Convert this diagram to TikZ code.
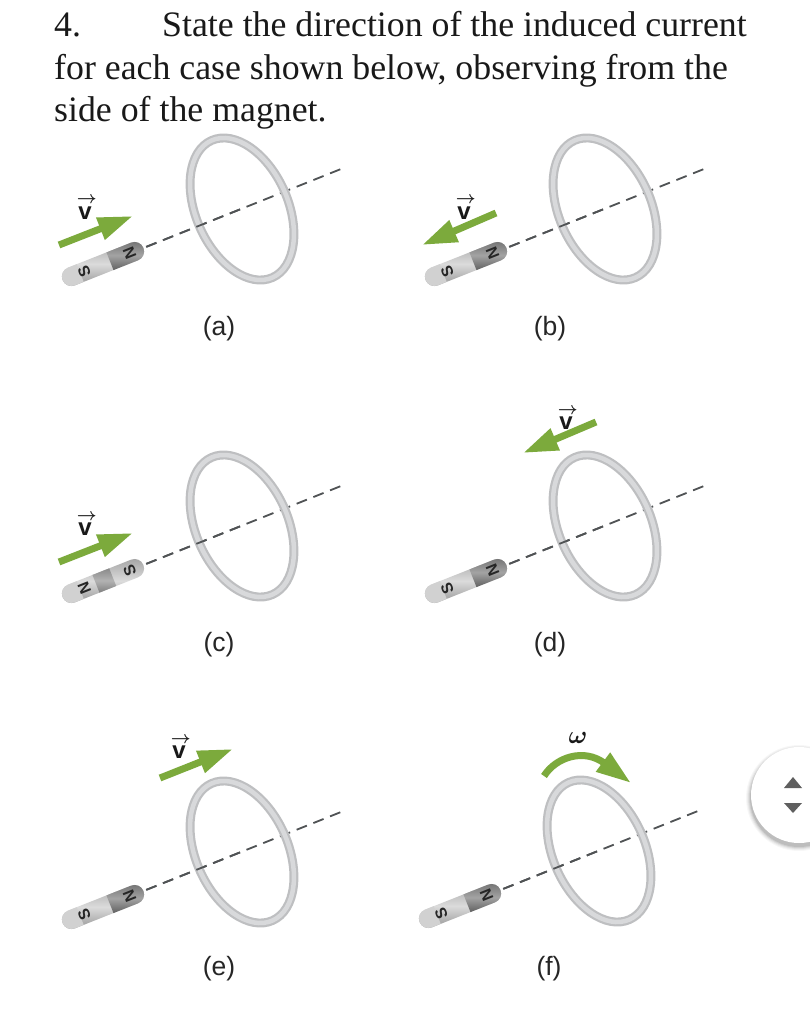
\documentclass[tikz,border=0pt]{standalone}
\usepackage{amsmath}
\usepackage{fontspec}
\setmainfont{Liberation Serif}
\setsansfont{Liberation Sans}
\usetikzlibrary{positioning}
\usetikzlibrary{calc}
\usetikzlibrary{arrows.meta}
\usetikzlibrary{shapes.misc}
\usetikzlibrary{shapes.geometric}
\definecolor{vecgreen}{RGB}{124,170,60}
\definecolor{ringdark}{RGB}{190,191,193}
\definecolor{ringlight}{RGB}{216,217,219}
\definecolor{axisgray}{RGB}{80,83,85}
\definecolor{widgetgray}{RGB}{95,95,95}
\newcommand{\velsym}{\rlap{\hspace{-1.4pt}\raisebox{15pt}{\fontsize{16}{16}\selectfont$\boldsymbol{\rightarrow}$}}v}
\tikzset{
  titletext/.style={anchor=base west, inner sep=0, text=black!90, font=\fontsize{35.8}{40}\selectfont},
  caption/.style={inner sep=0, text=black!85, font=\sffamily\fontsize{26.5}{28}\selectfont},
  vecarrow/.style={draw=vecgreen, line width=7, -{Triangle[length=35,width=22]}},
  veclabel/.style={anchor=base, inner sep=0, text=black!90, font=\sffamily\bfseries\fontsize{24}{26}\selectfont},
  loopring/.style={ellipse, inner sep=0, outer sep=0, minimum width=92, minimum height=150, rotate=24,
    draw=ringdark, double=ringlight, line width=2.2, double distance=4.5},
  axisline/.style={draw=axisgray, line width=1.8, dash pattern=on 11 off 7},
  barmagnet/.style={rounded rectangle, inner sep=0, outer sep=0, minimum width=87, minimum height=19, rotate=21.6,
    shading=axis, top color=black!36, bottom color=black!42, middle color=black!14},
  northend/.style={rounded rectangle, rounded rectangle west arc=none, inner sep=0, outer sep=0,
    minimum width=36, minimum height=19, rotate=21.6, anchor=east,
    shading=axis, top color=black!55, bottom color=black!62, middle color=black!36},
  midband/.style={rectangle, inner sep=0, outer sep=0,
    minimum width=18, minimum height=19, rotate=21.6, anchor=east,
    shading=axis, top color=black!46, bottom color=black!50, middle color=black!30},
  endcap/.style={rounded rectangle, rounded rectangle east arc=none, inner sep=0, outer sep=0,
    minimum width=10, minimum height=19, rotate=21.6, anchor=west, fill=black!18},
  polelabel/.style={inner sep=0, rotate=111.6, text=black!85, font=\sffamily\bfseries\fontsize{16}{17}\selectfont}
}
% one loop with its bar magnet: name, shift, left pole, right pole, dark part, its position
\newcommand{\looppanel}[7]{
  \begin{scope}[shift={(#2,#3)}]
    % nodes %
    \node[barmagnet] (#1mag) at (103,264) {};
    \node[endcap] (#1cap) at (#1mag.west) {};
    \node[#6] (#1dark) at ($(#1mag.west)!#7!(#1mag.east)$) {};
    \node[polelabel] (#1left) at ($(#1mag.west)!0.27!(#1mag.east)$) {#4};
    \node[polelabel] (#1right) at ($(#1mag.west)!0.83!(#1mag.east)$) {#5};
    \coordinate (#1end) at (346,167);
    \coordinate (#1start) at ($(#1mag.east)!3pt!(#1end)$);
    \coordinate (#1mid) at ($(#1start)!0.5!(#1end)$);
    % edges %
    \draw[axisline] (#1start) -- (#1end);
    \node[loopring] (#1ring) at (242,209) {};
    \draw[axisline] (#1start) -- (#1mid);
  \end{scope}
}

\begin{document}
\begin{tikzpicture}[x=1pt,y=-1pt]
        \useasboundingbox[fill=white] (0,0) rectangle (810,1016);

        % question text %
        \node[titletext] (num) at (54,37) {4.};
        \node[titletext] (lineone) at (162,37) {State the direction of the induced current};
        \node[titletext, below=42.5pt of num.base west, anchor=base west] (linetwo) {for each case shown below, observing from the};
        \node[titletext, below=42.5pt of linetwo.base west, anchor=base west] (linethree) {side of the magnet.};

        % loops and magnets %
        \looppanel{a}{0}{0}{S}{N}{northend}{1}
        \looppanel{b}{363}{0}{S}{N}{northend}{1}
        \looppanel{c}{0}{317}{N}{S}{midband}{0.62}
        \looppanel{d}{363}{317}{S}{N}{northend}{1}
        \looppanel{e}{0}{643}{S}{N}{northend}{1}
        \looppanel{f}{357}{642}{S}{N}{northend}{1}

        % captions %
        \node[caption] (capa) at (219,329) {(a)};
        \node[caption] (capb) at (550,329) {(b)};
        \node[caption] (capc) at (219,645) {(c)};
        \node[caption] (capd) at (550,645) {(d)};
        \node[caption] (cape) at (219,969) {(e)};
        \node[caption] (capf) at (549,969) {(f)};

        % velocity arrows %
        \foreach \n/\tx/\ty/\hx/\hy/\lx/\ly in {a/59/245/133/216/85/219,b/496/213/422/245/464/219,c/59/562/133/533/85/535,d/596/422/523/453/566/429,e/160/778/233/749/179/758}{
          \coordinate (\n tail) at (\tx,\ty);
          \coordinate (\n head) at (\hx,\hy);
          \draw[vecarrow] (\n tail) -- (\n head);
          \node[veclabel] (\n vel) at (\lx,\ly) {\velsym};
        }

        % rotation arrow %
        \node[inner sep=0, text=black!90, font=\fontsize{34}{36}\selectfont] (omega) at (578,738) {$\boldsymbol{\omega}$};
        \coordinate (rottail) at (544,776);
        \coordinate (rothead) at (631,783);
        \draw[vecarrow] (rottail) .. controls (556,757) and (584,748) .. (rothead);

        % scroll button %
        \foreach \r/\o in {53/0.03,52/0.04,51/0.05,50/0.07,49/0.09}{
          \fill[black, opacity=\o] (799,798) circle (\r);
        }
        \node[circle, fill=white, inner sep=0, outer sep=0, minimum size=96] (scroll) at (799,795) {};
        \fill[widgetgray] (784,788) -- (793,777) -- (802,788) -- cycle;
        \fill[widgetgray] (784,803) -- (793,813) -- (802,803) -- cycle;
\end{tikzpicture}
\end{document}
